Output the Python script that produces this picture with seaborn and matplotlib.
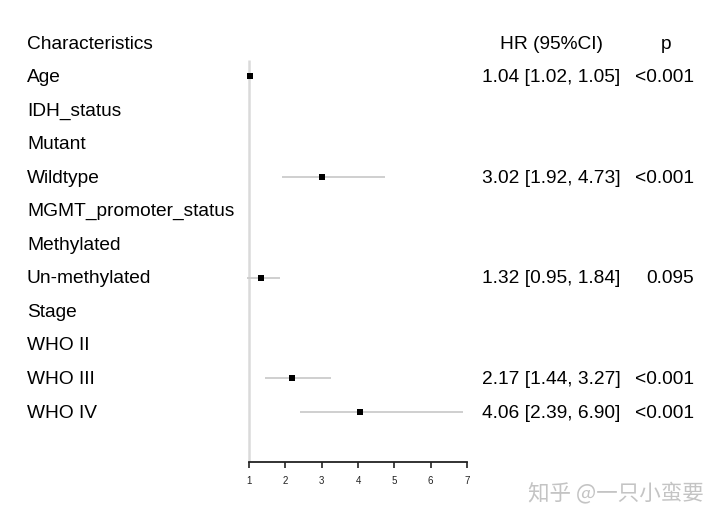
import numpy as np
import pandas as pd
import matplotlib
matplotlib.use('Agg')
import matplotlib.pyplot as plt
import matplotlib.transforms as mtransforms
import seaborn as sns

# rows of the forest plot (None = heading row without estimate)
labels = ['Age', 'IDH_status', 'Mutant', 'Wildtype', 'MGMT_promoter_status',
          'Methylated', 'Un-methylated', 'Stage', 'WHO II', 'WHO III', 'WHO IV']
hr = [1.04, None, None, 3.02, None, None, 1.32, None, None, 2.17, 4.06]
lower = [1.02, None, None, 1.92, None, None, 0.95, None, None, 1.44, 2.39]
upper = [1.05, None, None, 4.73, None, None, 1.84, None, None, 3.27, 6.90]
p_text = ['<0.001', '', '', '<0.001', '', '', '0.095', '', '', '<0.001', '<0.001']
x_ticks = [1, 2, 3, 4, 5, 6, 7]

sns.set_theme(style='white')
plt.rcParams['font.family'] = ['Liberation Sans', 'DejaVu Sans']
plt.rcParams['text.color'] = 'black'

df = pd.DataFrame({'label': labels, 'hr': hr, 'lower': lower, 'upper': upper, 'p': p_text})
df['row'] = np.arange(len(df))
est = df.dropna(subset=['hr'])

W, H = 720, 523
fig = plt.figure(figsize=(W / 100, H / 100), dpi=100)
# axes placed in pixel coordinates: x 0.9..7.1, rows -1.5..11.5
ax = fig.add_axes([245.4 / W, 1 - 462 / H, (470.6 - 245.4) / W, (462 - 26) / H])
ax.set_xlim(0.9, 7.1)
ax.set_ylim(11.5, -1.5)

ax.vlines(1, -0.5, 11.5, color='#dadada', lw=1.8, zorder=1)
ax.hlines(est['row'], est['lower'], est['upper'], color='#cccccc', lw=1.3, zorder=2)
sns.scatterplot(data=est, x='hr', y='row', marker='s', color='black', s=14,
                edgecolor='black', linewidth=0, ax=ax, zorder=3)

for side in ['left', 'right', 'top']:
    ax.spines[side].set_visible(False)
ax.spines['bottom'].set_bounds(1, 7)
ax.spines['bottom'].set_linewidth(1.3)
ax.spines['bottom'].set_color('#222222')
ax.set_xticks(x_ticks)
ax.set_xticklabels([str(t) for t in x_ticks])
ax.tick_params(axis='x', bottom=True, length=4, width=1.2, color='#222222',
               labelsize=7, labelcolor='#222222', pad=6)
ax.set_yticks([])
ax.set_xlabel('')
ax.set_ylabel('')

trans = mtransforms.blended_transform_factory(fig.transFigure, ax.transData)
fs = 13.8
dy = 0.04
ax.text(27 / W, -1 + dy, 'Characteristics', transform=trans, fontsize=fs, va='center', ha='left')
ax.text(551 / W, -1 + dy, 'HR (95%CI)', transform=trans, fontsize=fs, va='center', ha='center')
ax.text(666 / W, -1 + dy, 'p', transform=trans, fontsize=fs, va='center', ha='center')
for _, r in df.iterrows():
    y = r['row'] + dy
    ax.text(27 / W, y, r['label'], transform=trans, fontsize=fs, va='center', ha='left')
    if pd.notna(r['hr']):
        ci = f"{r['hr']:.2f} [{r['lower']:.2f}, {r['upper']:.2f}]"
        ax.text(551 / W, y, ci, transform=trans, fontsize=fs, va='center', ha='center')
        ax.text(694 / W, y, r['p'], transform=trans, fontsize=fs, va='center', ha='right')

fig.text(616 / W, 1 - 493 / H, '知乎 @一只小蛮要', fontsize=15.5, color='#c4c4c4',
         ha='center', va='center', family=['Noto Sans CJK SC', 'DejaVu Sans'])

fig.savefig('out.png', dpi=100)
